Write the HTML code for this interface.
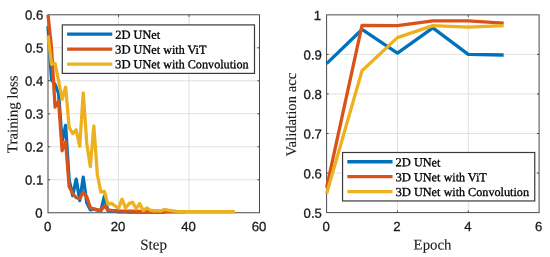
<!DOCTYPE html>
<html><head><meta charset="utf-8"><title>Training loss and validation accuracy</title>
<style>
html,body{margin:0;padding:0;background:#fff;}
svg{display:block;}
.tk{font-family:"Liberation Sans",sans-serif;font-size:13.2px;fill:#1a1a1a;stroke:#1a1a1a;stroke-width:0.3px;}
.lb{font-family:"Liberation Serif",serif;font-size:15px;fill:#1a1a1a;stroke:#1a1a1a;stroke-width:0.1px;}
.lg{font-family:"Liberation Serif",serif;font-size:12.2px;fill:#000;stroke:#000;stroke-width:0.3px;}
</style></head><body>
<svg width="550" height="257" viewBox="0 0 550 257">
<rect x="0" y="0" width="550" height="257" fill="#fff"/>

<clipPath id="cl"><rect x="46.00" y="14.30" width="215.50" height="199.95"/></clipPath>
<line x1="118.50" y1="14.80" x2="118.50" y2="212.75" stroke="#dfdfdf" stroke-width="1"/>
<line x1="189.00" y1="14.80" x2="189.00" y2="212.75" stroke="#dfdfdf" stroke-width="1"/>
<line x1="48.00" y1="179.76" x2="259.50" y2="179.76" stroke="#dfdfdf" stroke-width="1"/>
<line x1="48.00" y1="146.77" x2="259.50" y2="146.77" stroke="#dfdfdf" stroke-width="1"/>
<line x1="48.00" y1="113.78" x2="259.50" y2="113.78" stroke="#dfdfdf" stroke-width="1"/>
<line x1="48.00" y1="80.78" x2="259.50" y2="80.78" stroke="#dfdfdf" stroke-width="1"/>
<line x1="48.00" y1="47.79" x2="259.50" y2="47.79" stroke="#dfdfdf" stroke-width="1"/>
<rect x="48.00" y="14.80" width="211.50" height="197.95" fill="none" stroke="#4a4a4a" stroke-width="1"/>
<line x1="118.50" y1="212.75" x2="118.50" y2="210.65" stroke="#4a4a4a" stroke-width="1"/>
<line x1="118.50" y1="14.80" x2="118.50" y2="16.90" stroke="#4a4a4a" stroke-width="1"/>
<line x1="189.00" y1="212.75" x2="189.00" y2="210.65" stroke="#4a4a4a" stroke-width="1"/>
<line x1="189.00" y1="14.80" x2="189.00" y2="16.90" stroke="#4a4a4a" stroke-width="1"/>
<line x1="48.00" y1="179.76" x2="50.10" y2="179.76" stroke="#4a4a4a" stroke-width="1"/>
<line x1="259.50" y1="179.76" x2="257.40" y2="179.76" stroke="#4a4a4a" stroke-width="1"/>
<line x1="48.00" y1="146.77" x2="50.10" y2="146.77" stroke="#4a4a4a" stroke-width="1"/>
<line x1="259.50" y1="146.77" x2="257.40" y2="146.77" stroke="#4a4a4a" stroke-width="1"/>
<line x1="48.00" y1="113.78" x2="50.10" y2="113.78" stroke="#4a4a4a" stroke-width="1"/>
<line x1="259.50" y1="113.78" x2="257.40" y2="113.78" stroke="#4a4a4a" stroke-width="1"/>
<line x1="48.00" y1="80.78" x2="50.10" y2="80.78" stroke="#4a4a4a" stroke-width="1"/>
<line x1="259.50" y1="80.78" x2="257.40" y2="80.78" stroke="#4a4a4a" stroke-width="1"/>
<line x1="48.00" y1="47.79" x2="50.10" y2="47.79" stroke="#4a4a4a" stroke-width="1"/>
<line x1="259.50" y1="47.79" x2="257.40" y2="47.79" stroke="#4a4a4a" stroke-width="1"/>
<g clip-path="url(#cl)" fill="none" stroke-width="3.30" stroke-linejoin="round" stroke-linecap="butt">
<polyline stroke="#0072BD" points="48.00,26.15 51.52,79.79 55.05,84.41 58.58,93.32 62.10,141.49 65.62,125.42 69.15,179.76 72.67,195.59 76.20,179.10 79.72,200.54 83.25,177.25 86.78,202.85 90.30,209.78 93.83,209.12 97.35,210.11 100.88,210.77 104.40,196.25 107.92,210.77 111.45,211.43 114.97,211.43 118.50,211.76 122.03,211.76 125.55,211.76 129.07,212.09 132.60,212.09 136.12,212.09 139.65,212.09 143.18,212.09 146.70,212.09 150.22,212.09 153.75,212.09 157.28,212.09 160.80,212.09 164.32,212.09"/>
<polyline stroke="#D95319" points="48.00,14.80 51.52,47.79 55.05,107.18 58.58,101.24 62.10,150.73 65.62,141.82 69.15,186.82 72.67,193.19 76.20,197.74 79.72,198.66 83.25,192.26 86.78,196.85 90.30,207.80 93.83,208.79 97.35,209.65 100.88,210.57 104.40,205.99 107.92,209.78 111.45,210.44 114.97,210.77 118.50,210.77 122.03,211.10 125.55,211.10 129.07,211.10 132.60,211.10 136.12,211.43 139.65,211.43 143.18,211.43 146.70,211.43 150.22,211.43 153.75,211.43 157.28,211.76 160.80,211.76 164.32,211.76 167.85,211.76 171.38,211.76 174.90,211.76 178.43,211.76 181.95,211.76 185.47,211.76"/>
<polyline stroke="#EDB120" points="48.00,35.42 51.52,64.29 55.05,63.40 58.58,80.78 62.10,99.26 65.62,87.22 69.15,127.30 72.67,133.67 76.20,129.78 79.72,146.24 83.25,92.83 86.78,143.47 90.30,166.56 93.83,125.98 97.35,174.48 100.88,192.13 104.40,191.47 107.92,204.34 111.45,203.35 114.97,205.82 118.50,208.26 122.03,199.22 125.55,207.97 129.07,203.61 132.60,202.19 136.12,208.73 139.65,203.61 143.18,210.61 146.70,207.97 150.22,210.18 153.75,210.87 157.28,210.61 160.80,211.10 164.32,209.45 167.85,210.18 171.38,210.61 174.90,211.10 178.43,211.76 181.95,211.76 185.47,211.76 189.00,211.76 192.53,211.76 196.05,211.76 199.57,211.76 203.10,211.76 206.62,211.76 210.15,211.76 213.68,211.76 217.20,211.76 220.72,211.76 224.25,211.76 227.78,211.76 231.30,211.76 234.82,211.76"/>
</g>
<text class="tk" transform="translate(47.55,230.9) rotate(0.05)" text-anchor="middle">0</text>
<text class="tk" transform="translate(118.05,230.9) rotate(0.05)" text-anchor="middle">20</text>
<text class="tk" transform="translate(188.55,230.9) rotate(0.05)" text-anchor="middle">40</text>
<text class="tk" transform="translate(259.05,230.9) rotate(0.05)" text-anchor="middle">60</text>
<text class="tk" transform="translate(42.70,217.50) rotate(0.05)" text-anchor="end">0</text>
<text class="tk" transform="translate(43.30,184.51) rotate(0.05)" text-anchor="end">0.1</text>
<text class="tk" transform="translate(43.30,151.52) rotate(0.05)" text-anchor="end">0.2</text>
<text class="tk" transform="translate(43.30,118.53) rotate(0.05)" text-anchor="end">0.3</text>
<text class="tk" transform="translate(43.30,85.53) rotate(0.05)" text-anchor="end">0.4</text>
<text class="tk" transform="translate(43.30,52.54) rotate(0.05)" text-anchor="end">0.5</text>
<text class="tk" transform="translate(43.30,19.55) rotate(0.05)" text-anchor="end">0.6</text>
<text class="lb" transform="translate(153.6,249.6) rotate(0.05)" text-anchor="middle">Step</text>
<text class="lb" style="font-size:14.9px" transform="translate(17.4,114.3) rotate(-89.95)" text-anchor="middle">Training loss</text>
<rect x="62.30" y="24.90" width="192.20" height="48.50" fill="#fff" stroke="#3a3a3a" stroke-width="1.2"/>
<line x1="67.10" y1="34.20" x2="112.30" y2="34.20" stroke="#0072BD" stroke-width="3.30"/>
<text class="lg" transform="translate(0,38.70) rotate(0.05)"><tspan x="115.23" textLength="15.36" lengthAdjust="spacingAndGlyphs">2D</tspan> <tspan x="133.60" textLength="26.48" lengthAdjust="spacingAndGlyphs">UNet</tspan></text>
<line x1="67.10" y1="49.20" x2="112.30" y2="49.20" stroke="#D95319" stroke-width="3.30"/>
<text class="lg" transform="translate(0,53.50) rotate(0.05)"><tspan x="115.10" textLength="15.50" lengthAdjust="spacingAndGlyphs">3D</tspan> <tspan x="133.60" textLength="26.48" lengthAdjust="spacingAndGlyphs">UNet</tspan> <tspan x="163.35" textLength="21.27" lengthAdjust="spacingAndGlyphs">with</tspan> <tspan x="187.42" textLength="19.08" lengthAdjust="spacingAndGlyphs">ViT</tspan></text>
<line x1="67.10" y1="64.10" x2="112.30" y2="64.10" stroke="#EDB120" stroke-width="3.30"/>
<text class="lg" transform="translate(0,68.15) rotate(0.05)"><tspan x="115.10" textLength="15.50" lengthAdjust="spacingAndGlyphs">3D</tspan> <tspan x="133.60" textLength="26.48" lengthAdjust="spacingAndGlyphs">UNet</tspan> <tspan x="163.35" textLength="21.27" lengthAdjust="spacingAndGlyphs">with</tspan> <tspan x="187.75" textLength="60.88" lengthAdjust="spacingAndGlyphs">Convolution</tspan></text>
<clipPath id="cr"><rect x="324.60" y="14.35" width="216.50" height="199.75"/></clipPath>
<line x1="397.43" y1="14.85" x2="397.43" y2="212.60" stroke="#dfdfdf" stroke-width="1"/>
<line x1="468.27" y1="14.85" x2="468.27" y2="212.60" stroke="#dfdfdf" stroke-width="1"/>
<line x1="326.60" y1="173.05" x2="539.10" y2="173.05" stroke="#dfdfdf" stroke-width="1"/>
<line x1="326.60" y1="133.50" x2="539.10" y2="133.50" stroke="#dfdfdf" stroke-width="1"/>
<line x1="326.60" y1="93.95" x2="539.10" y2="93.95" stroke="#dfdfdf" stroke-width="1"/>
<line x1="326.60" y1="54.40" x2="539.10" y2="54.40" stroke="#dfdfdf" stroke-width="1"/>
<rect x="326.60" y="14.85" width="212.50" height="197.75" fill="none" stroke="#4a4a4a" stroke-width="1"/>
<line x1="397.43" y1="212.60" x2="397.43" y2="210.50" stroke="#4a4a4a" stroke-width="1"/>
<line x1="397.43" y1="14.85" x2="397.43" y2="16.95" stroke="#4a4a4a" stroke-width="1"/>
<line x1="468.27" y1="212.60" x2="468.27" y2="210.50" stroke="#4a4a4a" stroke-width="1"/>
<line x1="468.27" y1="14.85" x2="468.27" y2="16.95" stroke="#4a4a4a" stroke-width="1"/>
<line x1="326.60" y1="173.05" x2="328.70" y2="173.05" stroke="#4a4a4a" stroke-width="1"/>
<line x1="539.10" y1="173.05" x2="537.00" y2="173.05" stroke="#4a4a4a" stroke-width="1"/>
<line x1="326.60" y1="133.50" x2="328.70" y2="133.50" stroke="#4a4a4a" stroke-width="1"/>
<line x1="539.10" y1="133.50" x2="537.00" y2="133.50" stroke="#4a4a4a" stroke-width="1"/>
<line x1="326.60" y1="93.95" x2="328.70" y2="93.95" stroke="#4a4a4a" stroke-width="1"/>
<line x1="539.10" y1="93.95" x2="537.00" y2="93.95" stroke="#4a4a4a" stroke-width="1"/>
<line x1="326.60" y1="54.40" x2="328.70" y2="54.40" stroke="#4a4a4a" stroke-width="1"/>
<line x1="539.10" y1="54.40" x2="537.00" y2="54.40" stroke="#4a4a4a" stroke-width="1"/>
<g clip-path="url(#cr)" fill="none" stroke-width="3.30" stroke-linejoin="round" stroke-linecap="butt">
<polyline stroke="#0072BD" points="326.60,63.62 362.02,29.48 397.43,53.13 432.85,27.90 468.27,54.40 503.68,54.99"/>
<polyline stroke="#D95319" points="326.60,187.68 362.02,25.33 397.43,25.65 432.85,20.86 468.27,20.86 503.68,23.16"/>
<polyline stroke="#EDB120" points="326.60,193.62 362.02,70.81 397.43,37.63 432.85,25.65 468.27,27.11 503.68,25.65"/>
</g>
<text class="tk" transform="translate(326.15,230.9) rotate(0.05)" text-anchor="middle">0</text>
<text class="tk" transform="translate(396.98,230.9) rotate(0.05)" text-anchor="middle">2</text>
<text class="tk" transform="translate(467.82,230.9) rotate(0.05)" text-anchor="middle">4</text>
<text class="tk" transform="translate(538.65,230.9) rotate(0.05)" text-anchor="middle">6</text>
<text class="tk" transform="translate(321.90,217.70) rotate(0.05)" text-anchor="end">0.5</text>
<text class="tk" transform="translate(321.90,178.15) rotate(0.05)" text-anchor="end">0.6</text>
<text class="tk" transform="translate(321.90,138.60) rotate(0.05)" text-anchor="end">0.7</text>
<text class="tk" transform="translate(321.90,99.05) rotate(0.05)" text-anchor="end">0.8</text>
<text class="tk" transform="translate(321.90,59.50) rotate(0.05)" text-anchor="end">0.9</text>
<text class="tk" transform="translate(321.00,19.95) rotate(0.05)" text-anchor="end">1</text>
<text class="lb" style="font-size:14.8px" transform="translate(432.5,249.6) rotate(0.05)" text-anchor="middle">Epoch</text>
<text class="lb" style="font-size:14.7px" transform="translate(296.0,114.6) rotate(-89.95)" text-anchor="middle">Validation acc</text>
<rect x="342.55" y="152.50" width="192.20" height="48.45" fill="#fff" stroke="#3a3a3a" stroke-width="1.2"/>
<line x1="347.35" y1="161.75" x2="392.55" y2="161.75" stroke="#0072BD" stroke-width="3.30"/>
<text class="lg" transform="translate(0,166.00) rotate(0.05)"><tspan x="395.58" textLength="15.36" lengthAdjust="spacingAndGlyphs">2D</tspan> <tspan x="413.95" textLength="26.48" lengthAdjust="spacingAndGlyphs">UNet</tspan></text>
<line x1="347.35" y1="176.70" x2="392.55" y2="176.70" stroke="#D95319" stroke-width="3.30"/>
<text class="lg" transform="translate(0,180.80) rotate(0.05)"><tspan x="395.45" textLength="15.50" lengthAdjust="spacingAndGlyphs">3D</tspan> <tspan x="413.95" textLength="26.48" lengthAdjust="spacingAndGlyphs">UNet</tspan> <tspan x="443.70" textLength="21.27" lengthAdjust="spacingAndGlyphs">with</tspan> <tspan x="467.77" textLength="19.08" lengthAdjust="spacingAndGlyphs">ViT</tspan></text>
<line x1="347.35" y1="191.60" x2="392.55" y2="191.60" stroke="#EDB120" stroke-width="3.30"/>
<text class="lg" transform="translate(0,195.55) rotate(0.05)"><tspan x="395.45" textLength="15.50" lengthAdjust="spacingAndGlyphs">3D</tspan> <tspan x="413.95" textLength="26.48" lengthAdjust="spacingAndGlyphs">UNet</tspan> <tspan x="443.70" textLength="21.27" lengthAdjust="spacingAndGlyphs">with</tspan> <tspan x="468.10" textLength="60.88" lengthAdjust="spacingAndGlyphs">Convolution</tspan></text>
</svg></body></html>
